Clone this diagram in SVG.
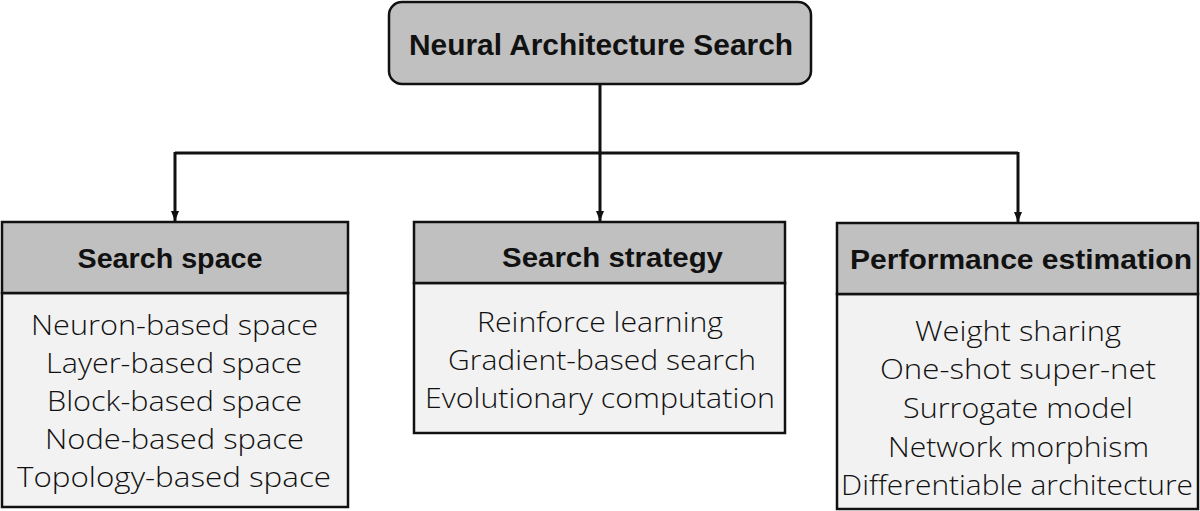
<svg xmlns="http://www.w3.org/2000/svg" width="1200" height="511" viewBox="0 0 1200 511">
<style>
.hdr{fill:#c0c0c0;stroke:#111;stroke-width:2.5}
.body{fill:#f2f2f2;stroke:#111;stroke-width:2.5}
.ht{font-family:"Liberation Sans",Arial,sans-serif;font-weight:bold;font-size:27px;fill:#111;text-anchor:middle}
.bt{font-family:"Open Sans","Liberation Sans",Arial,sans-serif;font-weight:300;font-size:28px;fill:#111;text-anchor:middle}
.conn{fill:none;stroke:#111;stroke-width:3}
</style>
<defs>
<marker id="arr" viewBox="0 0 10 8" refX="10" refY="4" markerWidth="10" markerHeight="8" orient="auto" markerUnits="userSpaceOnUse">
<path d="M0,0 L10,4 L0,8 z" fill="#111"/>
</marker>
</defs>
<rect width="1200" height="511" fill="#fff"/>
<g id="connectors">
<path class="conn" d="M600,84 V221" marker-end="url(#arr)"/>
<path class="conn" d="M175,153 H1018"/>
<path class="conn" d="M175,152 V221" marker-end="url(#arr)"/>
<path class="conn" d="M1018,152 V222" marker-end="url(#arr)"/>
</g>
<g id="nas">
<rect x="389" y="2" width="422" height="82" rx="13" class="hdr"/>
<text x="601" y="55" class="ht" style="font-size:29px" textLength="384" lengthAdjust="spacingAndGlyphs">Neural Architecture Search</text>
</g>
<g id="search-space">
<rect x="2" y="293" width="346" height="214" class="body"/>
<rect x="2" y="222" width="346" height="71" class="hdr"/>
<text x="170" y="268" class="ht" textLength="185" lengthAdjust="spacingAndGlyphs">Search space</text>
<text x="174.5" y="335" class="bt" textLength="287" lengthAdjust="spacingAndGlyphs">Neuron-based space</text>
<text x="174" y="373" class="bt" textLength="256" lengthAdjust="spacingAndGlyphs">Layer-based space</text>
<text x="174.5" y="411" class="bt" textLength="255" lengthAdjust="spacingAndGlyphs">Block-based space</text>
<text x="174.5" y="449" class="bt" textLength="259" lengthAdjust="spacingAndGlyphs">Node-based space</text>
<text x="174" y="487" class="bt" textLength="314" lengthAdjust="spacingAndGlyphs">Topology-based space</text>
</g>
<g id="search-strategy">
<rect x="414" y="283" width="371" height="150" class="body"/>
<rect x="414" y="222" width="371" height="61" class="hdr"/>
<text x="612.5" y="267" class="ht" textLength="221" lengthAdjust="spacingAndGlyphs">Search strategy</text>
<text x="600" y="332" class="bt" textLength="246" lengthAdjust="spacingAndGlyphs">Reinforce learning</text>
<text x="602" y="370" class="bt" textLength="308" lengthAdjust="spacingAndGlyphs">Gradient-based search</text>
<text x="600" y="408" class="bt" textLength="350" lengthAdjust="spacingAndGlyphs">Evolutionary computation</text>
</g>
<g id="performance-estimation">
<rect x="837" y="294" width="361" height="215" class="body"/>
<rect x="837" y="223" width="361" height="71" class="hdr"/>
<text x="1021" y="269" class="ht" textLength="342" lengthAdjust="spacingAndGlyphs">Performance estimation</text>
<text x="1018" y="341" class="bt" textLength="206" lengthAdjust="spacingAndGlyphs">Weight sharing</text>
<text x="1018" y="379" class="bt" textLength="276" lengthAdjust="spacingAndGlyphs">One-shot super-net</text>
<text x="1018" y="418" class="bt" textLength="230" lengthAdjust="spacingAndGlyphs">Surrogate model</text>
<text x="1018.5" y="457" class="bt" textLength="261" lengthAdjust="spacingAndGlyphs">Network morphism</text>
<text x="1017" y="495" class="bt" textLength="352" lengthAdjust="spacingAndGlyphs">Differentiable architecture</text>
</g>
</svg>
